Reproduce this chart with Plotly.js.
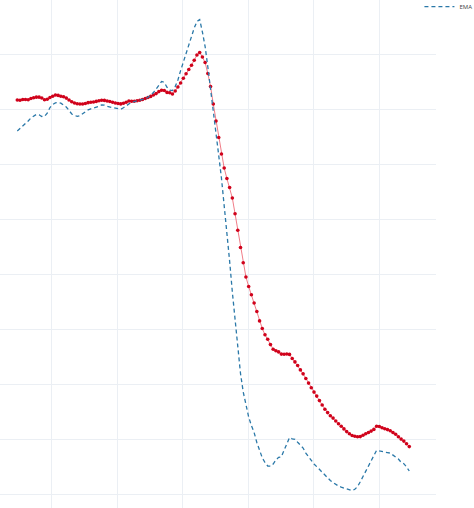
<!DOCTYPE html>
<html>
<head>
<meta charset="utf-8">
<script src="https://cdn.plot.ly/plotly-3.0.1.min.js"></script>
<style>
  html, body { margin: 0; padding: 0; background: #ffffff; }
  #chart { width: 474px; height: 508px; }
</style>
</head>
<body>
<div id="chart"></div>
<script>
// Price series (red, markers)
const priceValues = [
  71.64, 71.58, 71.73, 71.73, 71.69, 71.91, 72.05, 72.15, 72.15, 72.00,
  71.69, 71.78, 72.09, 72.33, 72.55, 72.47, 72.33, 72.22, 71.98, 71.64,
  71.33, 71.09, 70.96, 70.91, 70.91, 71.00, 71.15, 71.22, 71.27, 71.38,
  71.49, 71.60, 71.56, 71.45, 71.35, 71.24, 71.09, 71.00, 70.93, 71.04,
  71.24, 71.45, 71.42, 71.42, 71.49, 71.58, 71.73, 71.91, 72.09, 72.29,
  72.55, 72.80, 73.16, 73.42, 73.36, 73.02, 72.96, 72.73, 73.27, 74.00,
  74.73, 75.60, 76.42, 77.18, 77.95, 78.85, 79.82, 80.27, 79.45, 78.45,
  76.45, 74.09, 70.91, 67.82, 64.82, 61.82, 59.27, 57.36, 55.73, 53.82,
  50.95, 47.95, 44.82, 42.05, 39.45, 37.73, 36.22, 34.73, 33.18, 31.47,
  30.09, 28.95, 28.15, 27.16, 26.33, 26.05, 25.84, 25.44, 25.40, 25.45,
  25.38, 24.65, 24.02, 23.36, 22.56, 21.85, 21.00, 20.16, 19.31, 18.53,
  17.80, 16.98, 16.18, 15.42, 14.80, 14.22, 13.80, 13.27, 12.78, 12.33,
  11.84, 11.35, 10.95, 10.65, 10.49, 10.42, 10.44, 10.69, 10.95, 11.18,
  11.44, 11.75, 12.33, 12.27, 12.05, 11.87, 11.71, 11.49, 11.18, 10.87,
  10.42, 9.98, 9.62, 9.13, 8.62
];

// EMA series (blue, dashed)
const emaValues = [
  66.00, 66.44, 66.84, 67.40, 67.82, 68.36, 68.75, 69.02, 68.95, 68.64,
  68.67, 69.24, 70.27, 70.82, 71.11, 71.18, 71.07, 70.78, 70.36, 69.75,
  69.09, 68.85, 68.65, 68.80, 69.15, 69.55, 69.84, 70.04, 70.15, 70.33,
  70.49, 70.73, 70.69, 70.47, 70.38, 70.27, 70.18, 70.05, 69.96, 70.22,
  70.58, 70.95, 71.25, 71.36, 71.47, 71.56, 71.64, 71.89, 72.13, 72.55,
  72.98, 73.62, 74.25, 75.00, 74.84, 73.95, 73.44, 73.36, 74.07, 75.27,
  76.98, 78.62, 80.16, 81.64, 83.36, 84.73, 85.91, 86.27, 84.00, 81.36,
  77.64, 73.82, 69.82, 65.73, 61.55, 57.45, 52.55, 48.18, 42.36, 36.73,
  31.45, 26.49, 21.91, 18.55, 15.91, 14.00, 12.45, 11.18, 9.36, 8.00,
  6.58, 5.73, 5.09, 5.05, 5.45, 6.18, 6.67, 6.76, 8.05, 9.00,
  10.27, 10.04, 9.95, 9.40, 8.82, 8.36, 7.45, 6.73, 6.09, 5.45,
  4.98, 4.45, 4.00, 3.45, 2.98, 2.45, 2.09, 1.75, 1.45, 1.24,
  1.05, 0.87, 0.73, 0.62, 0.85, 1.35, 2.22, 3.16, 4.18, 5.18,
  6.25, 7.13, 7.95, 7.82, 7.69, 7.60, 7.53, 7.44, 7.09, 6.78,
  6.36, 5.78, 5.51, 4.91, 4.18
];

const seriesNames = ["Price", "EMA"];
const xIndex = priceValues.map((_, i) => i);

const traces = [
  {
    x: xIndex,
    y: priceValues,
    name: seriesNames[0],
    type: "scatter",
    mode: "lines+markers",
    line: { color: "rgba(235,80,95,0.75)", width: 1 },
    marker: { color: "#d0021b", size: 3.6 }
  },
  {
    x: xIndex,
    y: emaValues,
    name: seriesNames[1],
    type: "scatter",
    mode: "lines",
    line: { color: "#2a78a8", width: 1.3, dash: "4px,3px" }
  }
];

const layout = {
  width: 474,
  height: 508,
  margin: { l: 0, r: 38, t: 0, b: 0, autoexpand: false },
  paper_bgcolor: "#ffffff",
  plot_bgcolor: "#ffffff",
  showlegend: true,
  legend: {
    x: 0.962, xanchor: "left",
    y: 1.053, yanchor: "top",
    bgcolor: "rgba(0,0,0,0)",
    font: { family: "Open Sans, sans-serif", size: 6, color: "#444" }
  },
  xaxis: {
    range: [-6.356, 153.82],
    showticklabels: false,
    ticks: "",
    tick0: 12.64,
    dtick: 24.06,
    showgrid: true,
    gridcolor: "#EBEFF4",
    gridwidth: 1,
    zeroline: false,
    showline: false
  },
  yaxis: {
    range: [-2.545, 89.818],
    showticklabels: false,
    ticks: "",
    tick0: 0,
    dtick: 10,
    showgrid: true,
    gridcolor: "#EBEFF4",
    gridwidth: 1,
    zeroline: false,
    showline: false
  }
};

Plotly.newPlot("chart", traces, layout, { displayModeBar: false, staticPlot: true });
</script>
</body>
</html>
